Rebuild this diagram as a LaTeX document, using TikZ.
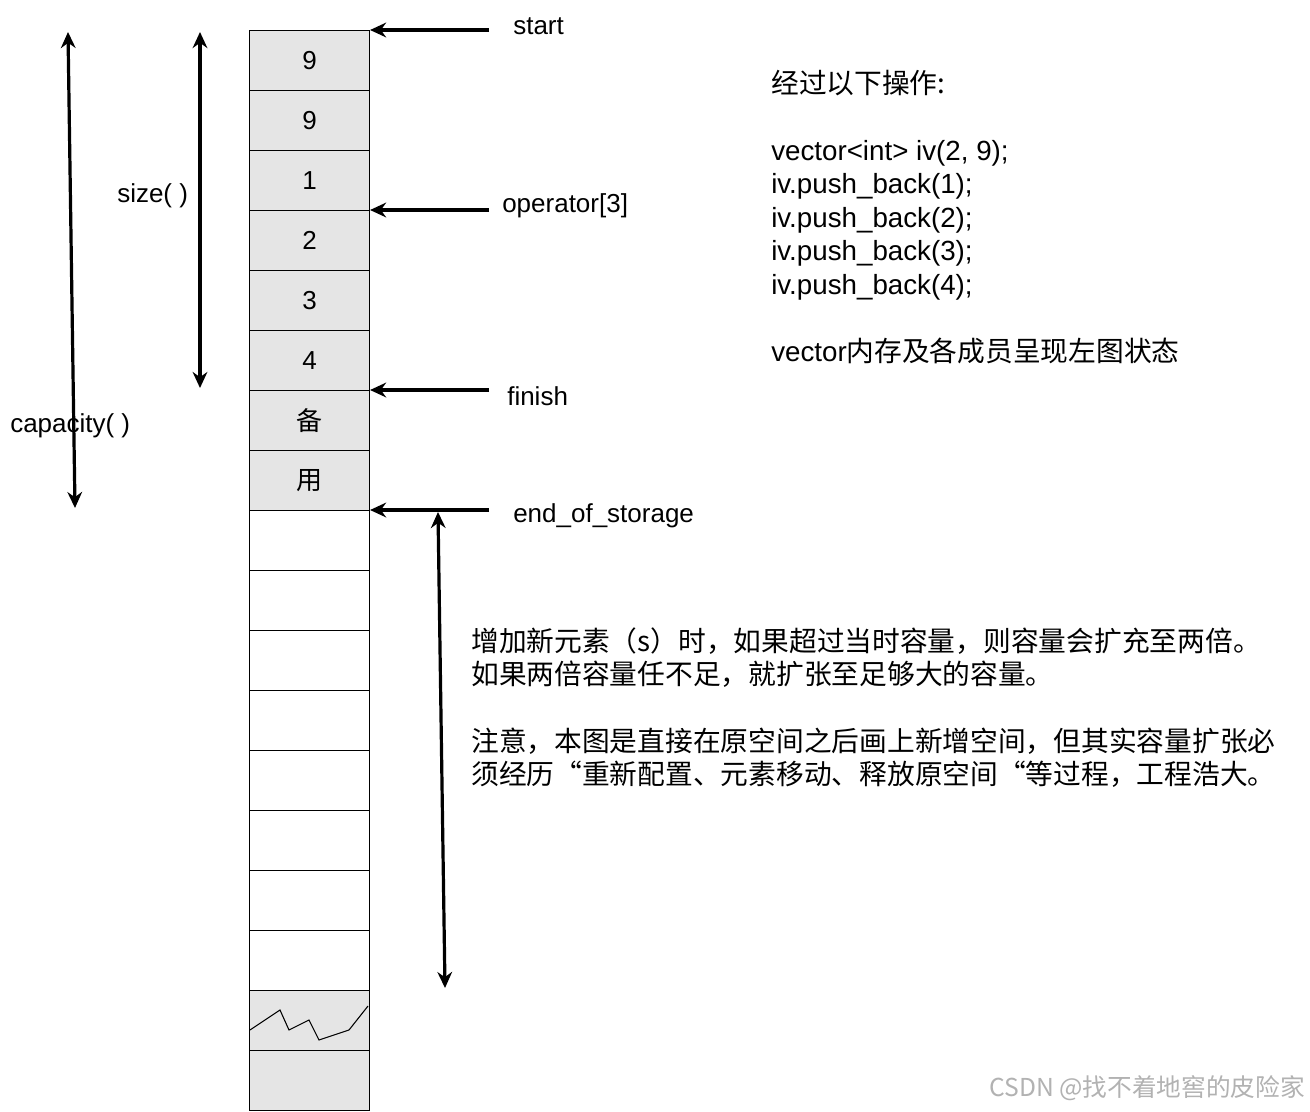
\documentclass[tikz,border=0pt]{standalone}
\usepackage{fontspec}
\setmainfont{Liberation Sans}
\newfontfamily\cjk{Noto Sans CJK SC}
\usetikzlibrary{arrows.meta}
\begin{document}
\begin{tikzpicture}[x=0.75pt,y=-0.75pt,
  cell/.style={draw=black,line width=0.8pt,minimum width=90pt,minimum height=45pt,inner sep=0pt,anchor=north west,font=\fontsize{19.5}{22}\selectfont},
  used/.style={cell,fill=gray!20},
  ptr/.style={line width=2.4pt,-{Stealth[length=12pt,width=11pt]}},
  dbl/.style={line width=2.4pt,{Stealth[length=12pt,width=11pt]}-{Stealth[length=12pt,width=11pt]}},
  lbl/.style={font=\fontsize{19.5}{22}\selectfont,inner sep=0pt},
  txt/.style={font=\cjk\fontsize{20.8}{25.1}\selectfont,inner sep=0pt,anchor=north west,align=left}]
\useasboundingbox[fill=white] (0,0) rectangle (1310,1111);
\foreach \t [count=\i from 0] in {9,9,1,2,3,4,{\cjk 备},{\cjk 用}}
  \node[used] (c\i) at (249,30+60*\i) {\t};
\foreach \i in {8,...,15}
  \node[cell] (c\i) at (249,30+60*\i) {};
\node[used] (c16) at (249,990) {};
\node[used] (c17) at (249,1050) {};
\draw[line width=0.8pt] (250,1030) -- (280,1010) -- (289,1030) -- (309,1020) -- (319,1040) -- (349,1030) -- (368,1006);
\coordinate (s0) at (489,30); \coordinate (s1) at (489,210);
\coordinate (s2) at (489,390); \coordinate (s3) at (489,510);
\draw[ptr] (s0) -- (c0.north east);
\draw[ptr] (s1) -- (c3.north east);
\draw[ptr] (s2) -- (c6.north east);
\draw[ptr] (s3) -- (c8.north east);
\node[lbl,anchor=west] (ls) at (513,26) {start};
\node[lbl,anchor=west] (lo) at (502,206) {operator[3]};
\node[lbl,anchor=west] (lf) at (507,396) {finish};
\node[lbl,anchor=west] (le) at (513,516) {end\_of\_storage};
\coordinate (a1) at (200,32); \coordinate (a2) at (200,388);
\draw[dbl] (a1) -- (a2);
\node[lbl,anchor=west] (lsz) at (117,196) {size( )};
\coordinate (b1) at (68,32); \coordinate (b2) at (75,508);
\draw[dbl] (b1) -- (b2);
\node[lbl,anchor=west] (lc) at (10,426) {capacity( )};
\coordinate (d1) at (438,512); \coordinate (d2) at (445,988);
\draw[dbl] (d1) -- (d2);
\node[txt] (t1) at (771,70) {经过以下操作:\\[25.1pt]
{\rmfamily vector<int> iv(2, 9);}\\
{\rmfamily iv.push\_back(1);}\\
{\rmfamily iv.push\_back(2);}\\
{\rmfamily iv.push\_back(3);}\\
{\rmfamily iv.push\_back(4);}\\[25.1pt]
{\rmfamily vector}内存及各成员呈现左图状态};
\node[txt] (t2) at (471,627) {增加新元素（s）时，如果超过当时容量，则容量会扩充至两倍。\\
如果两倍容量任不足，就扩张至足够大的容量。\\[25.1pt]
注意，本图是直接在原空间之后画上新增空间，但其实容量扩张必\\
须经历“重新配置、元素移动、释放原空间“等过程，工程浩大。};
\node[font=\cjk\fontsize{18.5}{20}\selectfont,text=gray!60,anchor=east,inner sep=0pt] (wm) at (1305,1088) {CSDN @找不着地窖的皮险家};
\end{tikzpicture}
\end{document}
